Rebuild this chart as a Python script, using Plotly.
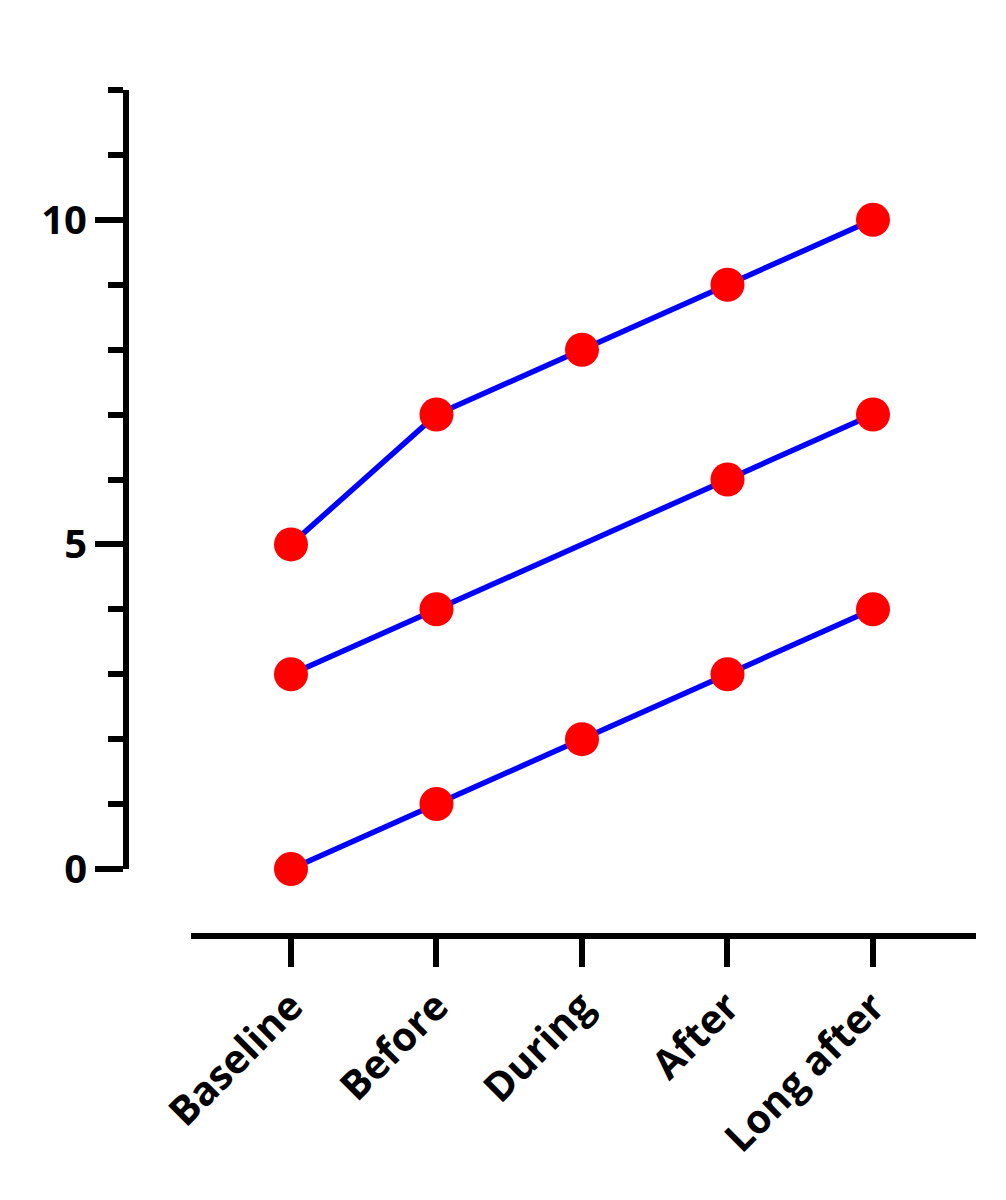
import plotly.graph_objects as go

categories = ["Baseline", "Before", "During", "After", "Long after"]
series_top = [5, 7, 8, 9, 10]
series_mid = [3, 4, None, 6, 7]
series_low = [0, 1, 2, 3, 4]

y_major = [0, 5, 10]
y_minor = [1, 2, 3, 4, 6, 7, 8, 9, 11, 12]

fig = go.Figure()
for vals in [series_top, series_mid, series_low]:
    fig.add_trace(go.Scatter(x=categories, y=vals,
                             mode="lines+markers",
                             connectgaps=True,
                             cliponaxis=False,
                             line=dict(color="#0000FF", width=5.5),
                             marker=dict(color="#FF0000", size=34),
                             showlegend=False))

# page body adds ~8px offset, so margins are shifted to compensate
fig.update_layout(width=1006, height=1200,
                  margin=dict(l=118, r=38, t=82, b=272),
                  plot_bgcolor="white", paper_bgcolor="white",
                  font=dict(family="Open Sans", size=40, color="black", weight="bold"))

fig.update_xaxes(type="category", range=[-0.687, 4.708],
                 domain=[0.0765, 1], anchor="free", position=0,
                 showline=True, linecolor="black", linewidth=6,
                 ticks="outside", ticklen=28, tickwidth=6, tickcolor="black",
                 tickangle=-45, showgrid=False, zeroline=False)

fig.update_yaxes(range=[0, 12], domain=[0.0792, 1],
                 anchor="free", position=0,
                 tickmode="array", tickvals=y_major,
                 showline=True, linecolor="black", linewidth=6,
                 ticks="outside", ticklen=28, tickwidth=6, tickcolor="black",
                 minor=dict(tickmode="array", tickvals=y_minor, ticks="outside",
                            ticklen=15, tickwidth=6, tickcolor="black"),
                 showgrid=False, zeroline=False)

fig.write_html("out.html")
